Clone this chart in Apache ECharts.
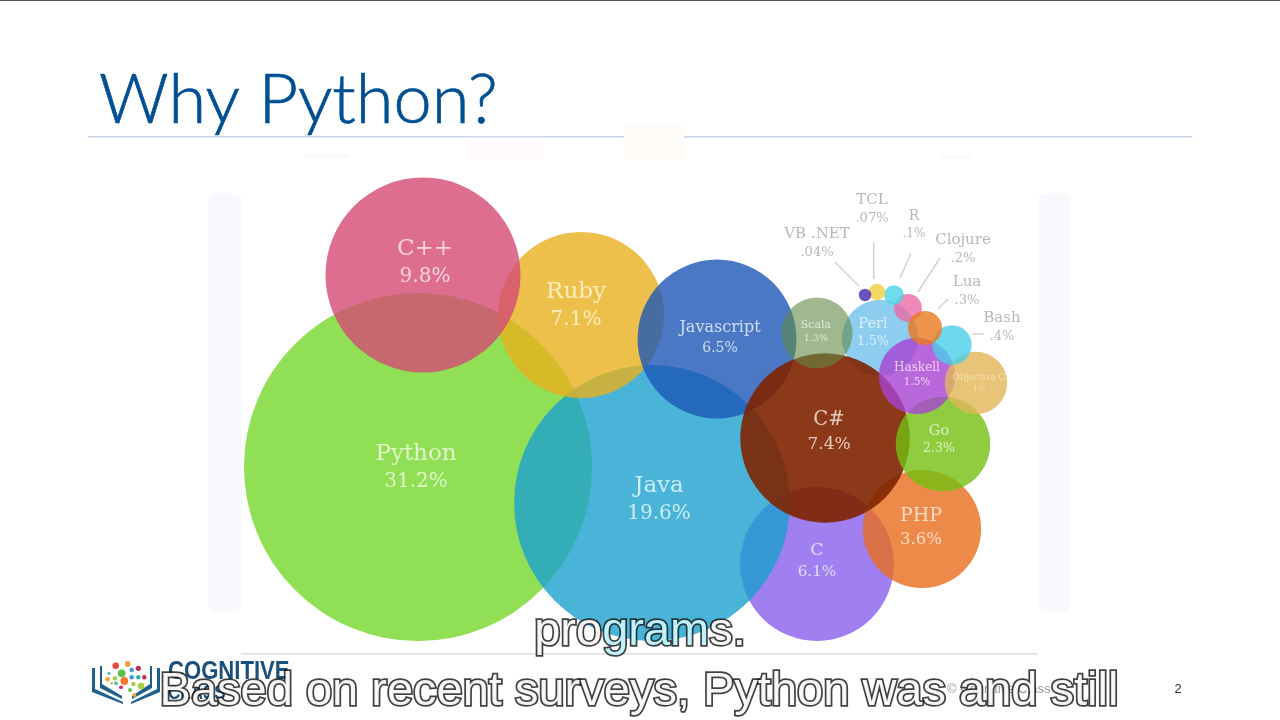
<!DOCTYPE html>
<html>
<head>
<meta charset="utf-8">
<script src="https://cdn.jsdelivr.net/npm/echarts@6/dist/echarts.min.js"></script>
<style>html,body{margin:0;padding:0;background:#fff}#c{width:1280px;height:720px}</style>
</head>
<body>
<div id="c"></div>
<script>
// --- data (draw order, back to front) ---
const languages = ['Python','C','Java','Ruby','C++','Javascript','PHP','Perl','C#','Scala','Go','Haskell','Objective C','Bash','Clojure','Lua','R','TCL','VB .NET'];
const shareLabels = ['31.2%','6.1%','19.6%','7.1%','9.8%','6.5%','3.6%','1.5%','7.4%','1.3%','2.3%','1.5%','1%','.4%','.2%','.3%','.1%','.07%','.04%'];
const shares = [31.2,6.1,19.6,7.1,9.8,6.5,3.6,1.5,7.4,1.3,2.3,1.5,1,.4,.2,.3,.1,.07,.04];
const bubbleX = [418,817,652,581,423,717,922,880,825,817,943,917,976,952,908,925,894,877,865];
const bubbleY = [467,564,503,315,275,339,529,338,438,333,444,376,383,345,308,328,295,292,295];

// --- styles ---
const colors = ['rgb(116,215,42)','rgb(136,95,236)','rgb(28,160,206)','rgb(231,176,29)','rgb(212,74,116)','rgb(29,86,181)','rgb(232,109,29)','rgb(112,193,236)','rgb(126,36,0)','rgb(97,137,70)','rgb(115,191,16)','rgb(168,66,211)','rgb(226,181,87)','rgb(74,206,234)','rgb(234,106,166)','rgb(234,121,30)','rgb(74,211,229)','rgb(239,206,56)','rgb(69,36,176)'];
const bubbleOpacity = [.8,.8,.8,.8,.8,.8,.8,.8,.9,.6,.8,.8,.8,.8,.8,.8,.8,.8,.8];
const areaScale = 31.15;
const labelX = [416,817,659,576,425,720,921,873,829,816,939,917,979,1002,963,967,914,872,817];
const labelY = [468,561,500,306,263,338,528,333,432,332,440,375,383,327,249,291,225,209,243];
const labelSize = [23,17.5,23,23,23,16,19,14.5,19.5,11,14.5,12,9,15,15,15,14,15,15];
const labelColor = ['#f4fbe8','#f5f0ff','#ecfafd','#fff8dc','#fdecf2','#f0f5fd','#fdeee0','#eef8fe','#fbeee4','#eef4e6','#f0f9de','#f9e8fc','#f6e6b4','#a6a6a6','#a6a6a6','#a6a6a6','#a6a6a6','#a6a6a6','#a6a6a6'];
// leader lines from each outer label to its bubble
const leaders = [[[835,262],[859,286]],[[873.7,242],[873.7,279]],[[911,253],[900,278]],[[940,258],[918,292]],[[948,299],[938,309]],[[972,334],[984,334]]];

const logoDots = [[92,47,5,'#e8453c'],[128,42,4.5,'#f0a23c'],[160,55,4,'#c22f5e'],[72,70,2.5,'#4fc0a8'],[110,70,6,'#5cc04a'],[140,60,3.5,'#3b9bdc'],[178,82,3.5,'#c22f5e'],[68,88,3.5,'#f0a23c'],[90,85,3.5,'#a8cf45'],[118,93,6,'#f07a2c'],[160,82,3.5,'#2bb0b0'],[140,82,3.5,'#3b9bdc'],[93,100,3,'#4fc0a8'],[145,102,3.5,'#a8cf45'],[168,108,5,'#a8cf45'],[108,112,3,'#d12f6a'],[135,120,3,'#5cc04a'],[148,135,3,'#f0a23c'],[80,100,2,'#f0a23c']];
const logoG = logoDots.map(d => ({type:'circle', z:1, shape:{cx:85+d[0]/3, cy:650+d[1]/3, r:d[2]*.65}, style:{fill:d[3]}}));
const bookL = [[[92,668],[95,668],[95,689],[123,702],[123,704],[92,692]],[[100,666],[102,666],[102,684],[122,696],[122,699],[100,688]]];
const bookR = [[[160,668],[157,668],[157,689],[131,702],[131,704],[160,692]],[[152,666],[150,666],[150,684],[132,696],[132,699],[152,688]]];
const bookG = bookL.concat(bookR).map(p => ({type:'polygon', z:1, shape:{points:p}, style:{fill:'#1d5f8f'}}));

function rect(x,y,w,h,fill,r){return {type:'rect', z:-1, shape:{x,y,width:w,height:h,r:r||0}, style:{fill}};}
const capFont = '47px "Liberation Sans"';
const capWhite = 'rgba(255,255,255,.95)';
const capTint = '#bdf3ff';
function capOutline(text,x,y){
  return {type:'text', z:100, x, y, style:{text, font:capFont, textAlign:'center', textVerticalAlign:'middle',
    fill:'transparent', stroke:'rgba(30,30,30,.85)', lineWidth:3.5, shadowBlur:6, shadowColor:'rgba(0,0,0,.7)'}};
}
function capFill(text,x,y){
  return {type:'text', z:101, x, y, style:{text, font:capFont, textAlign:'center', textVerticalAlign:'middle', fill:capWhite}};
}
function capFillTinted(x,y,parts){
  const tok = f => ({fill:f, font:capFont, fontSize:47, fontFamily:'Liberation Sans'});
  return {type:'text', z:101, x, y, style:{
    text:parts.map(p=>'{'+p[1]+'|'+p[0]+'}').join(''),
    font:capFont, textAlign:'center', textVerticalAlign:'middle', rich:{w:tok(capWhite), c:tok(capTint)}}};
}

const chart = echarts.init(document.getElementById('c'), null, {renderer:'canvas'});
chart.setOption({
  animation:false,
  backgroundColor:'#fff',
  title:{text:'Why Python?', left:94, top:61, textStyle:{fontFamily:'Lato', fontWeight:300, fontSize:68.5, color:'#004f93', textBorderColor:'#004f93', textBorderWidth:.7}},
  grid:{left:0,right:0,top:0,bottom:0},
  xAxis:{type:'value',min:0,max:1280,show:false},
  yAxis:{type:'value',min:0,max:720,inverse:true,show:false},
  graphic:[
    rect(0,0,1280,1,'#555'),
    rect(88,136,1104,1.5,'#c9d6ea'),
    rect(208,193,34,419,'#f7f9fc',8),
    rect(1038,193,32,419,'#f7f9fc',8),
    rect(468,142,76,18,'#fffafa'),
    rect(624,126,60,34,'#fefaf7'),
    rect(305,154,45,5,'#fafafa'),
    rect(940,155,32,4,'#fbfbfb'),
    rect(241,653,797,1.5,'#dcdcdc'),
    ...bookG, ...logoG,
    {type:'text', z:1, x:168, y:672, scaleX:.85, style:{text:'COGNITIVE', font:'bold 26px "Liberation Sans"', fill:'#1d4f7c', textAlign:'left', textVerticalAlign:'middle'}},
    {type:'text', z:1, x:168, y:693, scaleX:.85, style:{text:'CLASS', font:'bold 20px "Liberation Sans"', fill:'#1d4f7c', textAlign:'left', textVerticalAlign:'middle'}},
    {type:'text', z:1, x:947, y:689, style:{text:'© Cognitive Class', font:'13px "Liberation Sans"', fill:'#999', textAlign:'left', textVerticalAlign:'middle'}},
    {type:'text', z:1, x:1178, y:689, style:{text:'2', font:'13px "Liberation Sans"', fill:'#333', textAlign:'center', textVerticalAlign:'middle'}},
    capOutline('programs.',640,632),
    capFillTinted(640,632,[['pro','w'],['gram','c'],['s.','w']]),
    capOutline('Based on recent surveys, Python was and still',639,692.5),
    capFill('Based on recent surveys, Python was and still',639,692.5)
  ],
  series:[
    {type:'scatter', silent:true, symbol:'circle',
     data:languages.map((n,i)=>({name:n, value:[bubbleX[i],bubbleY[i]],
       symbolSize:2*areaScale*Math.sqrt(shares[i]),
       itemStyle:{color:colors[i],opacity:bubbleOpacity[i]}}))},
    ...leaders.map(seg=>({type:'line',silent:true,symbol:'none',data:seg,z:3,lineStyle:{color:'#d2d2d2',width:1.5}})),
    {type:'scatter', silent:true, z:5, symbolSize:1, itemStyle:{color:'transparent'},
     data:languages.map((n,i)=>{
       const s=labelSize[i];
       return {name:n, value:[labelX[i],labelY[i]],
         label:{show:true,position:'inside',align:'center',verticalAlign:'middle',
           formatter:'{a|'+n+'}\n{b|'+shareLabels[i]+'}',
           rich:{a:{fontFamily:'DejaVu Serif',fontSize:s,lineHeight:s*1.24,color:labelColor[i]},
                 b:{fontFamily:'DejaVu Serif',fontSize:s*.87,lineHeight:s*1.24,color:labelColor[i]}}}};
     })}
  ]
});
</script>
</body>
</html>
